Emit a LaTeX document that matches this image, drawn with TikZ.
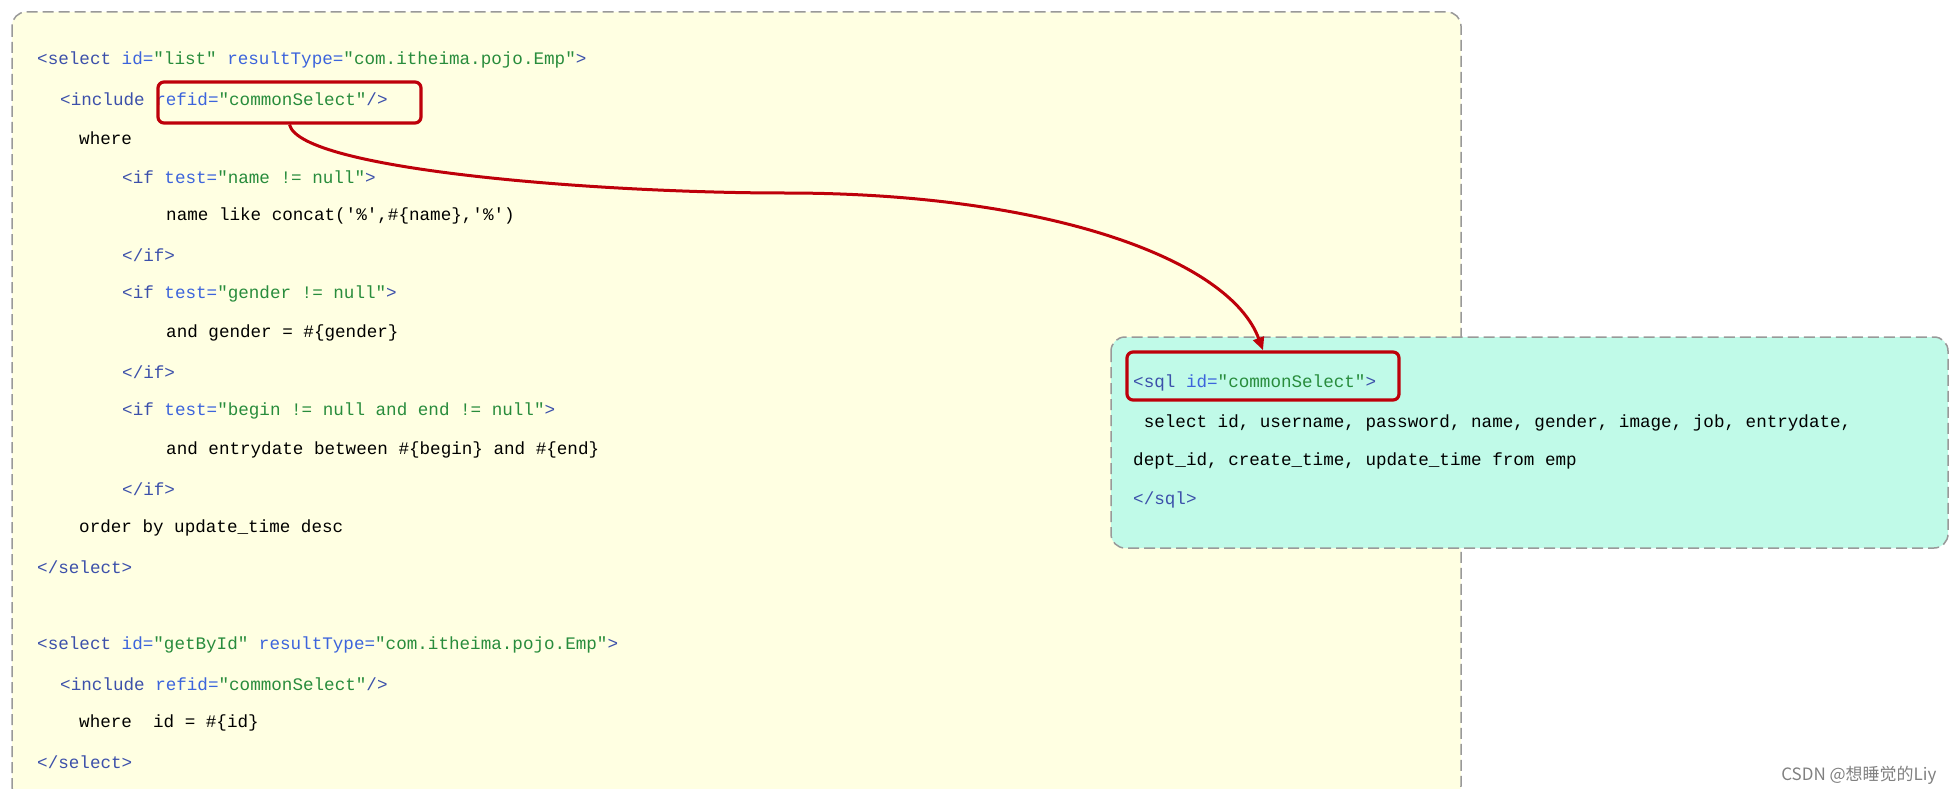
\documentclass[tikz,border=0pt]{standalone}
\usepackage{fontspec}
\setmonofont{Liberation Mono}
\newfontfamily\cjk{Noto Sans CJK SC}
\usetikzlibrary{arrows.meta}
\definecolor{tagc}{RGB}{60,80,170}
\definecolor{attc}{RGB}{60,100,220}
\definecolor{valc}{RGB}{40,140,60}
\definecolor{ybg}{RGB}{255,255,226}
\definecolor{gbg}{RGB}{192,250,232}
\definecolor{redc}{RGB}{190,0,10}
\newcommand{\tg}[1]{\textcolor{tagc}{#1}}
\newcommand{\at}[1]{\textcolor{attc}{#1}}
\newcommand{\vl}[1]{\textcolor{valc}{#1}}
\begin{document}
\begin{tikzpicture}[x=1pt,y=-1pt,
  code/.style={anchor=west,inner sep=0pt,font=\ttfamily\fontsize{17.6}{18}\selectfont},
  panel/.style={draw=gray!80,line width=1.5pt,rounded corners=14pt,dash pattern=on 11pt off 5pt},
  hl/.style={draw=redc,line width=3.2pt,rounded corners=6pt}]
\useasboundingbox (0,0) rectangle (1951,789);
\path[panel,fill=ybg] (12,12) rectangle (1461,800);
\path[panel,fill=gbg] (1111,337) rectangle (1948,548);
\node[code] (l1) at (37,60) {\tg{<select} \at{id=}\vl{"list"} \at{resultType=}\vl{"com.itheima.pojo.Emp"}\tg{>}};
\node[code] (l2) at (60,99) {\tg{<include} \at{refid=}\vl{"commonSelect"}\tg{/>}};
\node[code] (l3) at (79,138) {where};
\node[code] (l4) at (122,177) {\tg{<if} \at{test=}\vl{"name != null"}\tg{>}};
\node[code] (l5) at (166,216) {name like concat('\%',\#\{name\},'\%')};
\node[code] (l6) at (122,255) {\tg{</if>}};
\node[code] (l7) at (122,294) {\tg{<if} \at{test=}\vl{"gender != null"}\tg{>}};
\node[code] (l8) at (166,333) {and gender = \#\{gender\}};
\node[code] (l9) at (122,372) {\tg{</if>}};
\node[code] (l10) at (122,411) {\tg{<if} \at{test=}\vl{"begin != null and end != null"}\tg{>}};
\node[code] (l11) at (166,450) {and entrydate between \#\{begin\} and \#\{end\}};
\node[code] (l12) at (122,489) {\tg{</if>}};
\node[code] (l13) at (79,528) {order by update\_time desc};
\node[code] (l14) at (37,567) {\tg{</select>}};
\node[code] (l15) at (37,645) {\tg{<select} \at{id=}\vl{"getById"} \at{resultType=}\vl{"com.itheima.pojo.Emp"}\tg{>}};
\node[code] (l16) at (60,684) {\tg{<include} \at{refid=}\vl{"commonSelect"}\tg{/>}};
\node[code] (l17) at (79,723) {where\ \ id = \#\{id\}};
\node[code] (l18) at (37,762) {\tg{</select>}};
\node[code] (s1) at (1133,383) {\tg{<sql} \at{id=}\vl{"commonSelect"}\tg{>}};
\node[code] (s2) at (1133,423) {\ select id, username, password, name, gender, image, job, entrydate,};
\node[code] (s3) at (1133,461) {dept\_id, create\_time, update\_time from emp};
\node[code] (s4) at (1133,500) {\tg{</sql>}};
\node[hl,minimum width=263pt,minimum height=41pt] (b1) at (289.5,102.5) {};
\node[hl,minimum width=272pt,minimum height=48pt] (b2) at (1263,376) {};
\coordinate (m) at (785,193);
\draw[redc,line width=3pt,-{Triangle[length=13pt,width=11pt]}]
  (b1.south) .. controls (300,170) and (600,193) .. (m)
  .. controls (1050,193) and (1230,260) .. (b2.north);
\node[anchor=base east,text=gray,font=\cjk\fontsize{17}{17}\selectfont] (wm) at (1940,780) {CSDN @想睡觉的Liy};
\end{tikzpicture}
\end{document}
